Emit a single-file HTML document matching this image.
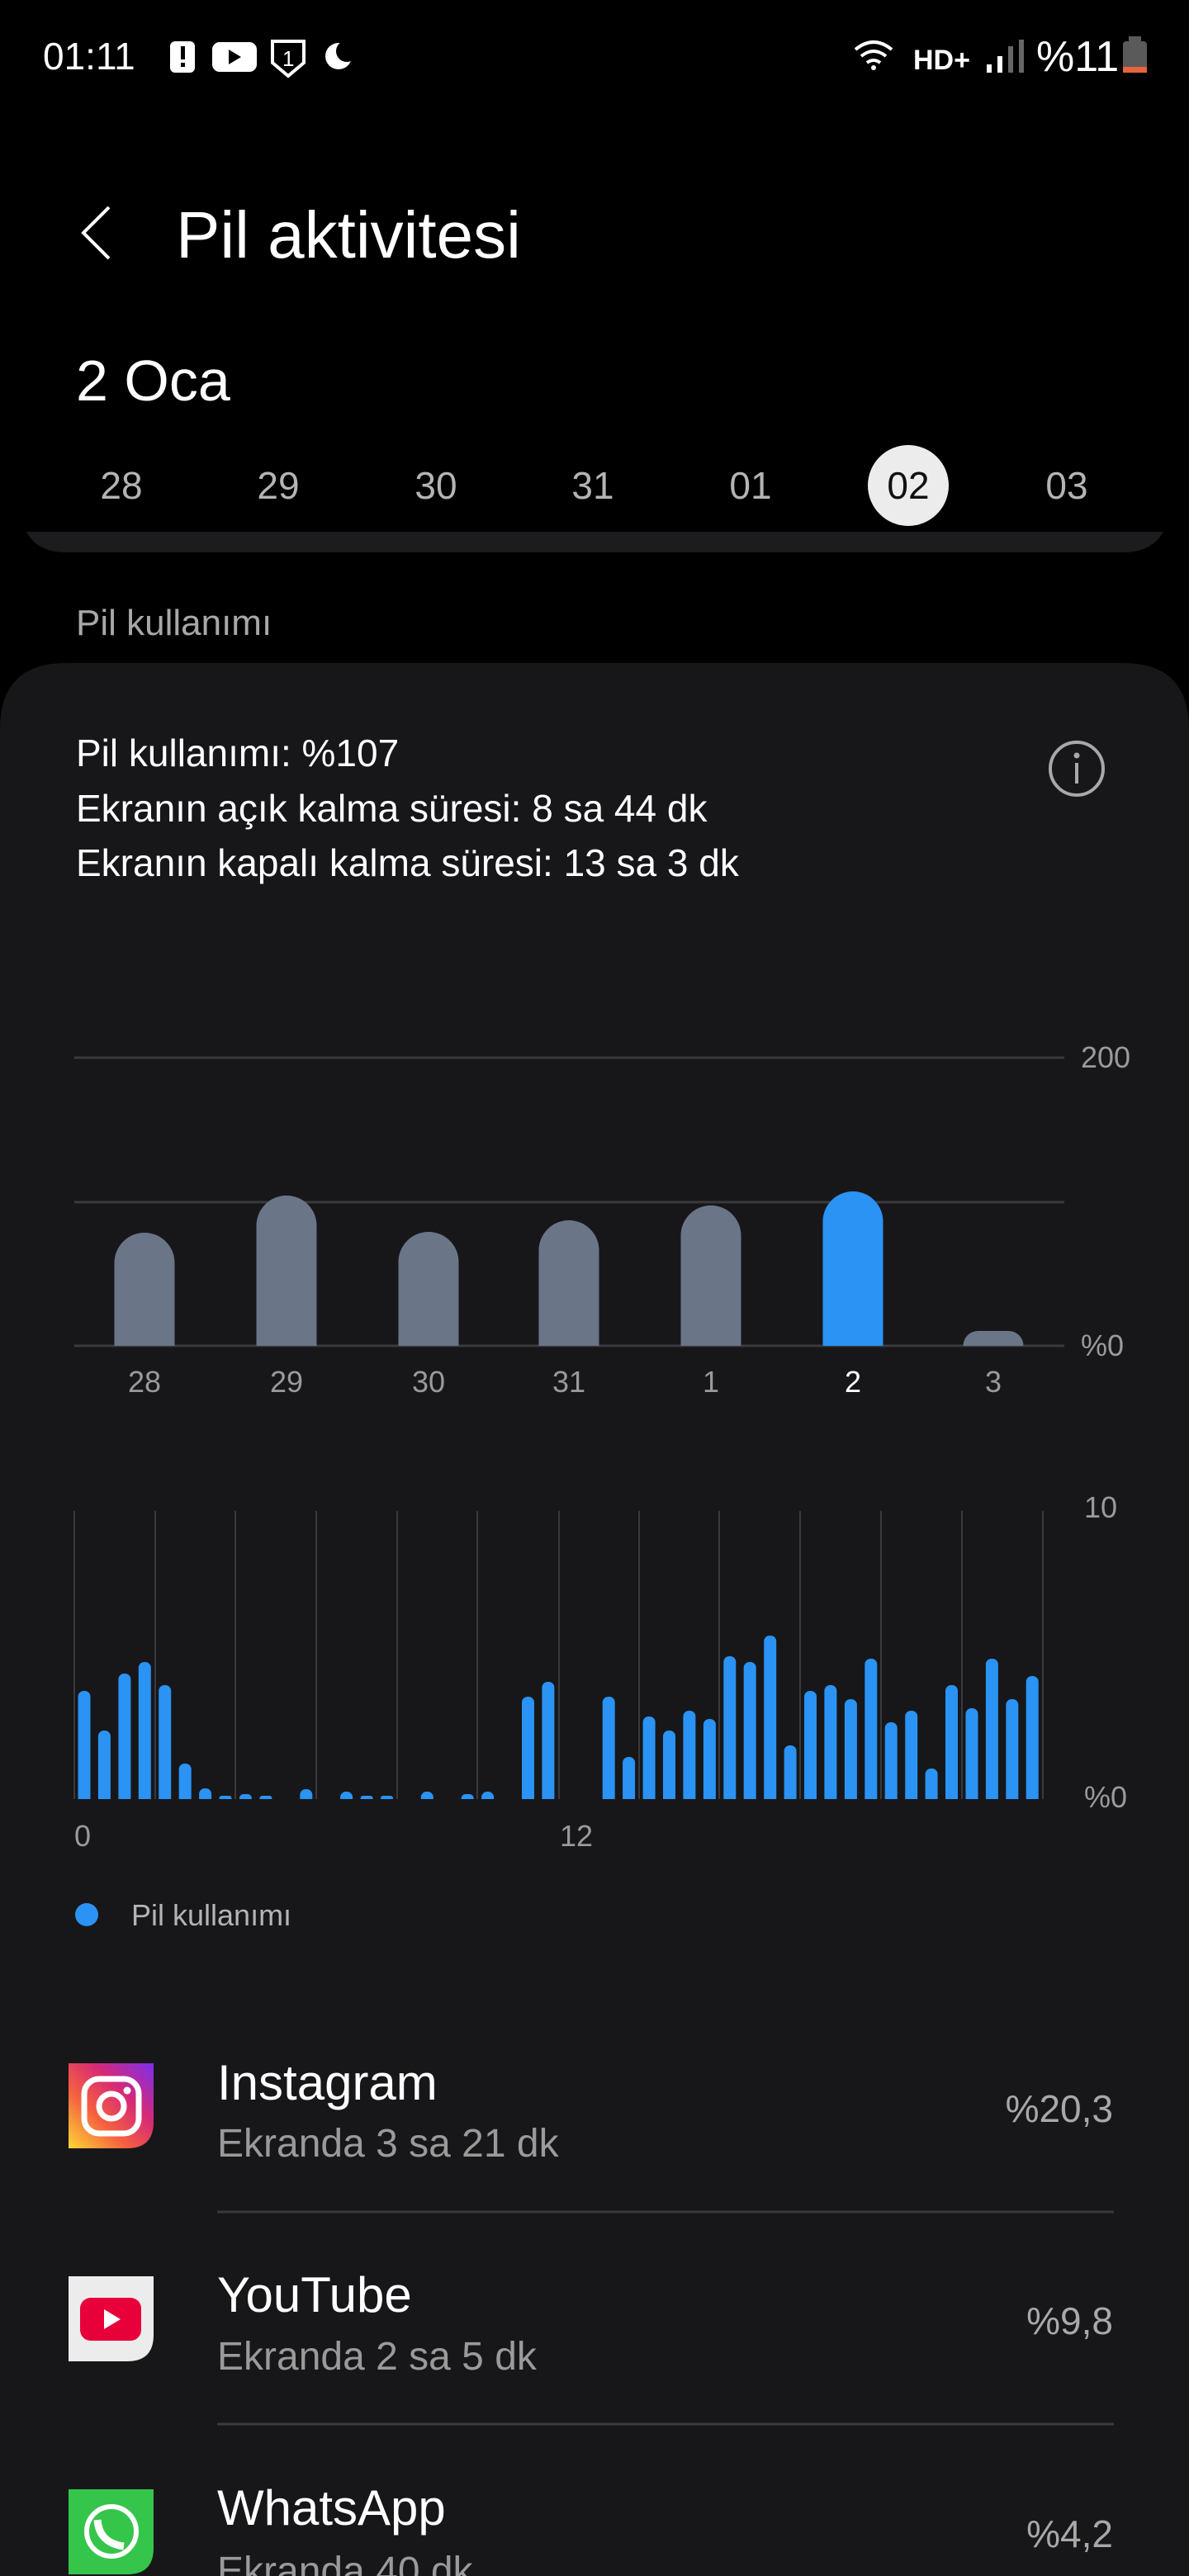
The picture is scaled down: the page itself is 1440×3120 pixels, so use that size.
<!DOCTYPE html>
<html><head><meta charset="utf-8"><style>
html,body{margin:0;padding:0;background:#000;}
svg{display:block}
text{font-family:"Liberation Sans",sans-serif;}
</style></head><body>
<svg width="1440" height="3120" viewBox="0 0 1440 3120" xmlns="http://www.w3.org/2000/svg">
<defs>
<clipPath id="c1"><rect x="0" y="0" width="1440" height="1630"/></clipPath>
<clipPath id="c2"><rect x="0" y="0" width="1440" height="2179"/></clipPath>
<linearGradient id="ig" x1="0" y1="1" x2="1" y2="0">
<stop offset="0" stop-color="#fdd835"/><stop offset="0.35" stop-color="#f56040"/><stop offset="0.65" stop-color="#d62976"/><stop offset="1" stop-color="#7a2ff0"/>
</linearGradient>
</defs>
<rect width="1440" height="3120" fill="#000"/>
<text x="52" y="84" font-size="46" fill="#fff">01:11</text>
<rect x="206" y="50" width="30" height="38" rx="6" fill="#fff"/><rect x="219" y="56" width="5" height="16" fill="#000"/><rect x="219" y="76" width="5" height="5" fill="#000"/>
<rect x="257" y="51" width="54" height="36" rx="9" fill="#fff"/><polygon points="277,60 277,78 292,69" fill="#000"/>
<path d="M330 50 L368 50 L368 76 Q349 92 349 92 Q330 76 330 76 Z" fill="none" stroke="#fff" stroke-width="4"/><text x="342" y="80" font-size="26" fill="#fff">1</text>
<circle cx="410" cy="68" r="16" fill="#fff"/><circle cx="420" cy="62" r="13" fill="#000"/>
<text x="1255" y="86" font-size="52" fill="#fff">%11</text>
<rect x="1360" y="50" width="29" height="38" rx="4" fill="#5a5a5a"/><rect x="1367" y="44" width="15" height="6" fill="#5a5a5a"/><rect x="1360" y="81" width="29" height="7" fill="#e8643c"/>
<rect x="1195" y="78" width="6" height="10" fill="#fff"/><rect x="1208" y="68" width="6" height="20" fill="#fff"/><rect x="1221" y="56" width="6" height="32" fill="#666"/><rect x="1234" y="48" width="6" height="40" fill="#666"/>
<text x="1106" y="84" font-size="34" font-weight="bold" fill="#fff">HD+</text>
<path d="M1036 60 Q1058 42 1080 60 M1043 68 Q1058 56 1073 68 M1050 76 Q1058 70 1066 76" stroke="#fff" stroke-width="4" fill="none"/><circle cx="1058" cy="82" r="3" fill="#fff"/>
<path d="M132 251 L101 282 L132 313" stroke="#fff" stroke-width="4" fill="none"/>
<text x="213" y="312" font-size="80" fill="#fff">Pil aktivitesi</text>
<text x="92" y="485" font-size="70" fill="#fff">2 Oca</text>
<circle cx="1100" cy="588" r="49" fill="#ececec"/>
<g font-size="46" fill="#b4b4b4" text-anchor="middle">
<text x="147" y="604">28</text><text x="337" y="604">29</text><text x="528" y="604">30</text><text x="718" y="604">31</text><text x="909" y="604">01</text><text x="1100" y="604" fill="#111">02</text><text x="1292" y="604">03</text>
</g>
<path d="M32 644 L1409 644 Q1395 669 1360 669 L80 669 Q45 669 32 644 Z" fill="#1c1c1e"/>
<text x="92" y="769" font-size="44" fill="#a8a8a8">Pil kullanımı</text>
<path d="M0 883 Q0 803 80 803 L1360 803 Q1440 803 1440 883 L1440 3120 L0 3120 Z" fill="#17171a"/>
<g font-size="46" fill="#fff">
<text x="92" y="928">Pil kullanımı: %107</text>
<text x="92" y="995">Ekranın açık kalma süresi: 8 sa 44 dk</text>
<text x="92" y="1061">Ekranın kapalı kalma süresi: 13 sa 3 dk</text>
</g>
<circle cx="1304" cy="931" r="32" fill="none" stroke="#a8a8a8" stroke-width="4"/>
<circle cx="1304" cy="915" r="3.5" fill="#a8a8a8"/><rect x="1302" y="924" width="4" height="25" fill="#a8a8a8"/>
<g stroke="#3a3a3c" stroke-width="3"><line x1="90" y1="1281" x2="1289" y2="1281"/><line x1="90" y1="1456" x2="1289" y2="1456"/><line x1="90" y1="1630" x2="1289" y2="1630"/></g>
<g font-size="36" fill="#9a9a9a"><text x="1309" y="1293">200</text><text x="1309" y="1642">%0</text></g>
<g clip-path="url(#c1)" fill="#6a7588">
<rect x="138.5" y="1493" width="73" height="180" rx="36.5"/>
<rect x="310.5" y="1448" width="73" height="220" rx="36.5"/>
<rect x="482.5" y="1492" width="73" height="180" rx="36.5"/>
<rect x="652.5" y="1478" width="73" height="190" rx="36.5"/>
<rect x="824.5" y="1460" width="73" height="210" rx="36.5"/>
<rect x="996.5" y="1443" width="73" height="220" rx="36.5" fill="#2a93f3"/>
<rect x="1166.5" y="1612" width="73" height="60" rx="18"/>
</g>
<g font-size="36" fill="#9a9a9a" text-anchor="middle">
<text x="175" y="1686">28</text><text x="347" y="1686">29</text><text x="519" y="1686">30</text><text x="689" y="1686">31</text><text x="861" y="1686">1</text><text x="1033" y="1686" fill="#fff">2</text><text x="1203" y="1686">3</text>
</g>
<g stroke="#3a3a3c" stroke-width="2">
<line x1="90" y1="1830" x2="90" y2="2179"/><line x1="188" y1="1830" x2="188" y2="2179"/><line x1="285" y1="1830" x2="285" y2="2179"/><line x1="383" y1="1830" x2="383" y2="2179"/><line x1="481" y1="1830" x2="481" y2="2179"/><line x1="578" y1="1830" x2="578" y2="2179"/><line x1="677" y1="1830" x2="677" y2="2179"/><line x1="774" y1="1830" x2="774" y2="2179"/><line x1="871" y1="1830" x2="871" y2="2179"/><line x1="969" y1="1830" x2="969" y2="2179"/><line x1="1067" y1="1830" x2="1067" y2="2179"/><line x1="1165" y1="1830" x2="1165" y2="2179"/><line x1="1263" y1="1830" x2="1263" y2="2179"/>
</g>
<g font-size="36" fill="#9a9a9a"><text x="1313" y="1838">10</text><text x="1313" y="2189">%0</text><text x="90" y="2236">0</text><text x="678" y="2236">12</text></g>
<g clip-path="url(#c2)" fill="#2a93f3">
<rect x="94.5" y="2048" width="15" height="140" rx="7"/>
<rect x="118.9" y="2096" width="15" height="92" rx="7"/>
<rect x="143.4" y="2027" width="15" height="161" rx="7"/>
<rect x="167.8" y="2013" width="15" height="175" rx="7"/>
<rect x="192.2" y="2041" width="15" height="147" rx="7"/>
<rect x="216.7" y="2136" width="15" height="52" rx="7"/>
<rect x="241.1" y="2166" width="15" height="22" rx="7"/>
<rect x="265.5" y="2175" width="15" height="13" rx="3"/>
<rect x="289.9" y="2173" width="15" height="15" rx="5"/>
<rect x="314.4" y="2175" width="15" height="13" rx="3"/>
<rect x="363.3" y="2167" width="15" height="21" rx="7"/>
<rect x="412.1" y="2170" width="15" height="18" rx="7"/>
<rect x="436.6" y="2175" width="15" height="13" rx="3"/>
<rect x="461" y="2175" width="15" height="13" rx="3"/>
<rect x="509.8" y="2170" width="15" height="18" rx="7"/>
<rect x="558.7" y="2173" width="15" height="15" rx="5"/>
<rect x="583.1" y="2170" width="15" height="18" rx="7"/>
<rect x="632" y="2055" width="15" height="133" rx="7"/>
<rect x="656.4" y="2037" width="15" height="151" rx="7"/>
<rect x="729.7" y="2055" width="15" height="133" rx="7"/>
<rect x="754.1" y="2128" width="15" height="60" rx="7"/>
<rect x="778.6" y="2079" width="15" height="109" rx="7"/>
<rect x="803" y="2096" width="15" height="92" rx="7"/>
<rect x="827.4" y="2072" width="15" height="116" rx="7"/>
<rect x="851.9" y="2082" width="15" height="106" rx="7"/>
<rect x="876.3" y="2006" width="15" height="182" rx="7"/>
<rect x="900.7" y="2013" width="15" height="175" rx="7"/>
<rect x="925.2" y="1981" width="15" height="207" rx="7"/>
<rect x="949.6" y="2114" width="15" height="74" rx="7"/>
<rect x="974" y="2048" width="15" height="140" rx="7"/>
<rect x="998.4" y="2041" width="15" height="147" rx="7"/>
<rect x="1022.9" y="2058" width="15" height="130" rx="7"/>
<rect x="1047.3" y="2009" width="15" height="179" rx="7"/>
<rect x="1071.7" y="2086" width="15" height="102" rx="7"/>
<rect x="1096.2" y="2072" width="15" height="116" rx="7"/>
<rect x="1120.6" y="2142" width="15" height="46" rx="7"/>
<rect x="1145" y="2041" width="15" height="147" rx="7"/>
<rect x="1169.5" y="2069" width="15" height="119" rx="7"/>
<rect x="1193.9" y="2009" width="15" height="179" rx="7"/>
<rect x="1218.3" y="2058" width="15" height="130" rx="7"/>
<rect x="1242.7" y="2030" width="15" height="158" rx="7"/>
</g>
<circle cx="105" cy="2319" r="14" fill="#2a93f3"/>
<text x="159" y="2332" font-size="36" fill="#b4b4b4">Pil kullanımı</text>
<path d="M83 2499 L186 2499 L186 2570 Q186 2602 154 2602 L83 2602 Z" fill="url(#ig)"/>
<rect x="102" y="2518" width="66" height="66" rx="18" fill="none" stroke="#fff" stroke-width="7"/>
<circle cx="135" cy="2551" r="15" fill="none" stroke="#fff" stroke-width="7"/><circle cx="154" cy="2532" r="4.5" fill="#fff"/>
<text x="263" y="2543" font-size="60" fill="#fff">Instagram</text>
<text x="263" y="2612" font-size="48" fill="#9a9a9a">Ekranda 3 sa 21 dk</text>
<text x="1348" y="2570" font-size="46" fill="#a8a8a8" text-anchor="end">%20,3</text>
<line x1="263" y1="2679" x2="1349" y2="2679" stroke="#3a3a3c" stroke-width="3"/>
<path d="M83 2757 L186 2757 L186 2828 Q186 2860 154 2860 L83 2860 Z" fill="#ececec"/>
<rect x="97" y="2783" width="74" height="52" rx="13" fill="#e8003a"/><polygon points="126,2797 126,2821 146,2809" fill="#fff"/>
<text x="263" y="2800" font-size="60" fill="#fff">YouTube</text>
<text x="263" y="2870" font-size="48" fill="#9a9a9a">Ekranda 2 sa 5 dk</text>
<text x="1348" y="2827" font-size="46" fill="#a8a8a8" text-anchor="end">%9,8</text>
<line x1="263" y1="2936" x2="1349" y2="2936" stroke="#3a3a3c" stroke-width="3"/>
<path d="M83 3015 L186 3015 L186 3086 Q186 3118 154 3118 L83 3118 Z" fill="#35c54b"/>
<circle cx="135" cy="3066" r="30" fill="none" stroke="#fff" stroke-width="6"/>
<path d="M118 3052 Q120 3080 150 3084" stroke="#fff" stroke-width="9" fill="none"/>
<text x="263" y="3058" font-size="60" fill="#fff">WhatsApp</text>
<text x="263" y="3130" font-size="48" fill="#9a9a9a">Ekranda 40 dk</text>
<text x="1348" y="3085" font-size="46" fill="#a8a8a8" text-anchor="end">%4,2</text>
</svg>
</body></html>
